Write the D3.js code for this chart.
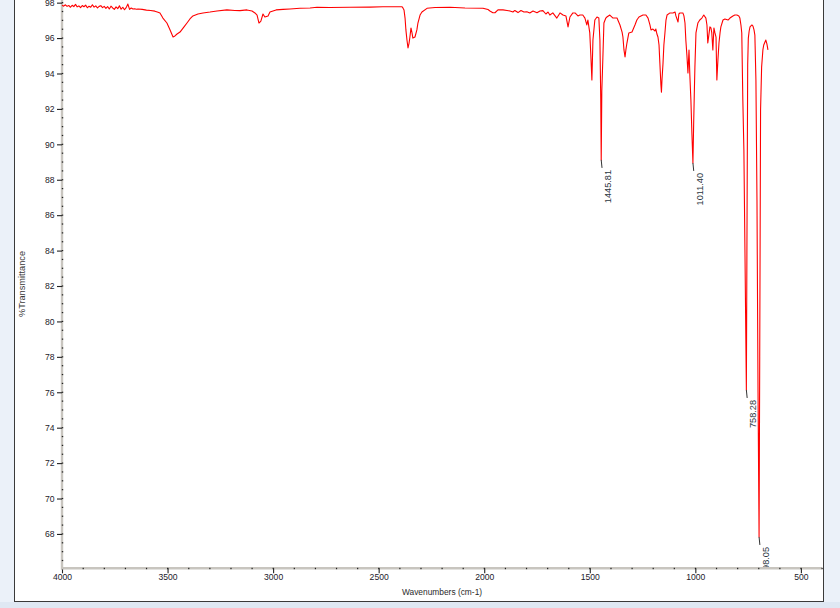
<!DOCTYPE html>
<html><head><meta charset="utf-8">
<script src="https://cdn.jsdelivr.net/npm/d3@7"></script>
<style>body{margin:0;background:#ebf1f9;}svg{display:block;}</style>
</head><body>
<svg id="c" width="840" height="608"></svg>
<script>
// ---- data ----
const wavenumber = [
4000,3992,3984,3976,3968,3960,3952,3944,3936,3928,3920,3912,3904,3896,3888,3880,3872,3864,3856,3848,
3840,3832,3824,3816,3808,3800,3792,3784,3776,3768,3760,3752,3744,3736,3728,3720,3712,3704,3696,3688,
3680,3672,3664,3656,3648,3640,3620,3600,3580,3560,3545,3536,3522,3503,3488,3474,3465,3455,3441,3422,
3408,3394,3380,3356,3332,3299,3266,3219,3181,3157,3124,3100,3086,3076,3067,3058,3048,3039,3024,3015,
2986,2953,2920,2873,2825,2792,2731,2636,2541,2480,2423,2390,2385,2380,2375,2371,2366,2361,2356,2352,
2347,2342,2338,2328,2319,2314,2304,2295,2271,2233,2162,2091,2006,1982,1973,1959,1949,1935,1911,1892,
1878,1864,1855,1840,1826,1812,1798,1784,1769,1750,1736,1722,1708,1698,1689,1675,1656,1641,1627,1613,
1603,1594,1580,1570,1556,1547,1533,1523,1514,1509,1500,1495,1490,1485,1476,1466,1457,1452,1448,1445.81,
1443,1438,1433,1424,1419,1405,1390,1371,1357,1347,1343,1338,1333,1329,1324,1315,1300,1286,1277,1267,
1248,1234,1224,1215,1210,1201,1191,1187,1182,1177,1172,1168,1163,1160.5,1158,1153,1149,1144,1139,1134,
1120,1106,1096,1092,1082,1078,1073,1059,1054,1049,1045,1040,1035,1030,1026,1021,1016,1011.40,1008,1005,
1002,997,988,979,969,960,950,945,941,936,931,926,922,917,912,907,902,900,898,893,
888,883,879,869,860,845,836,822,813,803,794,789,784,780,775,770,765,758.28,755,752,
749,745,741,732,727,722,718,713,708,703,698.05,695,691,686,680,676,666,661,656
];
const transmittance = [
97.86,97.80,97.88,97.79,97.84,97.74,97.85,97.78,97.90,97.76,97.82,97.72,97.84,97.77,97.86,97.71,97.80,97.74,97.88,97.75,
97.82,97.70,97.79,97.83,97.72,97.79,97.68,97.78,97.64,97.80,97.70,97.62,97.76,97.66,97.82,97.63,97.74,97.60,97.72,97.92,
97.62,97.70,97.64,97.66,97.63,97.64,97.62,97.58,97.56,97.52,97.46,97.42,97.13,96.85,96.46,96.06,96.12,96.23,96.34,96.63,
96.85,97.08,97.25,97.36,97.42,97.47,97.53,97.59,97.56,97.55,97.59,97.53,97.42,97.30,96.85,96.96,97.36,97.19,97.25,97.47,
97.59,97.62,97.64,97.68,97.70,97.74,97.73,97.74,97.75,97.77,97.77,97.77,97.70,97.59,97.13,96.46,95.89,95.44,95.72,96.06,
96.57,96.29,96.00,96.06,96.46,96.85,97.30,97.47,97.68,97.73,97.74,97.70,97.68,97.61,97.53,97.43,97.43,97.59,97.59,97.56,
97.53,97.47,97.56,97.44,97.56,97.47,97.49,97.42,97.53,97.43,97.53,97.55,97.36,97.47,97.30,97.42,97.13,97.42,97.30,97.25,
96.63,97.19,97.42,97.42,97.25,97.30,97.30,97.13,96.74,97.02,96.29,95.04,93.63,95.89,97.02,97.19,97.13,95.89,92.50,89.12,
93.00,94.87,96.85,97.13,97.19,97.30,97.13,97.13,96.74,96.34,96.06,95.33,94.93,95.33,95.72,96.29,96.34,96.74,97.02,97.19,
97.30,97.30,97.13,96.74,96.46,96.51,96.40,96.51,96.23,96.06,95.61,94.59,93.35,92.95,93.63,94.59,95.61,96.29,97.02,97.30,
97.42,97.42,97.47,97.25,96.91,97.36,97.42,97.42,97.25,96.85,95.89,95.04,94.03,95.33,93.91,92.50,90.53,88.95,91.10,92.80,
94.37,96.29,96.85,97.02,97.13,97.30,97.13,96.74,95.72,96.17,96.63,96.57,96.29,95.33,96.57,96.29,96.06,94.76,93.63,94.76,
95.72,96.29,96.63,97.02,97.08,97.02,97.13,97.25,97.30,97.30,97.25,97.13,96.74,96.29,92.50,89.68,84.03,76.13,86.00,94.50,
96.00,96.40,96.63,96.74,96.68,96.46,96.17,93.63,86.86,76.00,67.83,78.00,91.94,94.37,95.33,95.61,95.89,95.67,95.33
];
const xMajorTicks = [4000,3500,3000,2500,2000,1500,1000,500];
const yMajorTicks = [68,70,72,74,76,78,80,82,84,86,88,90,92,94,96,98];
const peakWavenumbers = [1445.81, 1011.40, 758.28, 698.05];
const peakLabels = ["1445.81", "1011.40", "758.28", "698.05"];
const xTitle = "Wavenumbers (cm-1)";
const yTitle = "%Transmittance";

// ---- layout ----
const svg = d3.select("#c");
const x = d3.scaleLinear().domain([4000, 400]).range([62, 822]);
const y = d3.scaleLinear().domain([66.06, 98.15]).range([568.3, 0]);
const peakT = peakWavenumbers.map(w => transmittance[wavenumber.indexOf(w)]);

// background / panel
svg.append("rect").attr("x",0).attr("y",0).attr("width",840).attr("height",608).attr("fill","#ebf1f9");
svg.append("rect").attr("x",0).attr("y",602).attr("width",840).attr("height",6).attr("fill","#dfe8f3");
svg.append("rect").attr("x",14.5).attr("y",-2).attr("width",809).attr("height",603.5)
  .attr("fill","#ffffff").attr("stroke","#3a3a3a").attr("stroke-width",1);

const defs = svg.append("defs");
defs.append("clipPath").attr("id","plotclip").append("rect")
  .attr("x",62).attr("y",-5).attr("width",762).attr("height",572);

// axes lines (gray, thick)
const minorX = d3.range(4000, 399, -100);
const minorY = d3.range(66.5, 98.2, 0.5);

const gx = svg.append("g").attr("transform","translate(0,568.3)");
gx.append("line").attr("x1",x(4000)-1).attr("x2",x(400)).attr("y1",0).attr("y2",0)
  .attr("stroke","#c8c5bf").attr("stroke-width",2.6);
gx.selectAll("rect.minor").data(minorX).join("rect").attr("class","minor")
  .attr("x",d=>x(d)-0.5).attr("y",-0.5).attr("width",1.2).attr("height",1.4).attr("fill","#222");
const xAxis = d3.axisBottom(x).tickValues(xMajorTicks).tickSize(5).tickSizeOuter(0).tickFormat(d3.format("d"));
const gxa = svg.append("g").attr("transform","translate(0,568.3)").call(xAxis);
gxa.select(".domain").remove();
gxa.selectAll(".tick line").attr("stroke","#222").attr("stroke-width",1.1);
gxa.selectAll(".tick text").attr("font-family","Liberation Sans, Arial, sans-serif")
  .attr("font-size","8.6px").attr("fill","#1c1a2a").attr("dy","0.9em").attr("y",4);

const gy = svg.append("g").attr("transform","translate(62,0)");
gy.append("line").attr("x1",0).attr("x2",0).attr("y1",-2).attr("y2",569.5)
  .attr("stroke","#c8c5bf").attr("stroke-width",2.4);
gy.selectAll("rect.minor").data(minorY).join("rect").attr("class","minor")
  .attr("x",-0.2).attr("y",d=>y(d)-0.6).attr("width",1.4).attr("height",1.2).attr("fill","#222");
const yAxis = d3.axisLeft(y).tickValues(yMajorTicks).tickSize(5).tickSizeOuter(0).tickFormat(d3.format("d"));
const gya = svg.append("g").attr("transform","translate(62,0)").call(yAxis);
gya.select(".domain").remove();
gya.selectAll(".tick line").attr("stroke","#222").attr("stroke-width",1.1);
gya.selectAll(".tick text").attr("font-family","Liberation Sans, Arial, sans-serif")
  .attr("font-size","8.6px").attr("fill","#1c1a2a").attr("x",-7.5);

// spectrum
const line = d3.line().x((d,i)=>x(wavenumber[i])).y((d,i)=>y(transmittance[i]));
svg.append("path").datum(transmittance).attr("d", line)
  .attr("fill","none").attr("stroke","#ff0000").attr("stroke-width",1.1).attr("stroke-linejoin","round");

// peak labels
const pg = svg.append("g").attr("clip-path","url(#plotclip)");
peakWavenumbers.forEach((w,i) => {
  const px = x(w), py = y(peakT[i]);
  pg.append("line").attr("x1",px).attr("x2",px+0.8).attr("y1",py).attr("y2",py+8)
    .attr("stroke","#333").attr("stroke-width",1);
  pg.append("text").attr("transform",`translate(${px+10},${py+10}) rotate(-90)`)
    .attr("text-anchor","end").attr("font-family","Liberation Sans, Arial, sans-serif")
    .attr("font-size","9.2px").attr("fill","#2a3440").text(peakLabels[i]);
});

// titles
svg.append("text").attr("x",442).attr("y",595).attr("text-anchor","middle")
  .attr("font-family","Liberation Sans, Arial, sans-serif").attr("font-size","8.4px")
  .attr("fill","#2a2a2a").text(xTitle);
svg.append("text").attr("transform","translate(25,284) rotate(-90)").attr("text-anchor","middle")
  .attr("font-family","Liberation Sans, Arial, sans-serif").attr("font-size","9.2px")
  .attr("fill","#3a3a3a").text(yTitle);
</script>
</body></html>
